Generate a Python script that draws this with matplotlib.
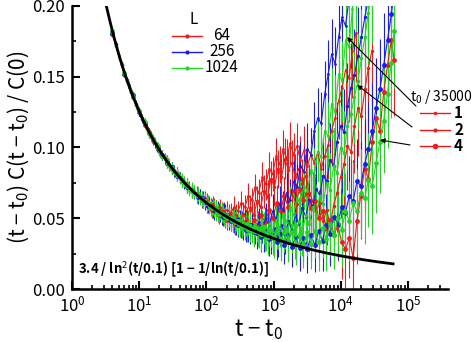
import numpy as np
import matplotlib
matplotlib.use('Agg')
import matplotlib.pyplot as plt
from matplotlib.ticker import LogLocator, MultipleLocator, NullFormatter

plt.rcParams['font.family'] = ['Noto Sans CJK JP', 'DejaVu Sans']
plt.rcParams['mathtext.fontset'] = 'custom'
plt.rcParams['mathtext.rm'] = 'Noto Sans CJK JP'
plt.rcParams['mathtext.it'] = 'Noto Sans CJK JP'
plt.rcParams['mathtext.bf'] = 'Noto Sans CJK JP:bold'

# t - t0 grids for the three waiting times t0 / 35000 = 1, 2, 4
t_1 = [4, 5, 6, 7, 8, 10, 12, 14, 17, 20,
       24, 28, 33, 40, 47, 56, 66, 79, 94, 110,
       125, 140, 160, 180, 205, 230, 260, 295, 330, 375,
       420, 475, 535, 600, 680, 765, 860, 970, 1090, 1230,
       1390, 1560, 1760, 1980, 2230, 2510, 2830, 3190, 3590, 4040,
       4550, 5120, 5770, 6500, 7320, 8240, 9280, 10450, 11770, 13250,
       14920, 16800]
t_2 = [4.5, 5.5, 6.5, 7.5, 9, 11, 13, 15.5, 18.5, 22,
       26, 30.5, 36, 43, 51, 61, 72, 86, 102, 117,
       132, 150, 170, 192, 217, 245, 277, 312, 352, 397,
       447, 505, 568, 640, 722, 813, 916, 1030, 1160, 1310,
       1475, 1660, 1870, 2110, 2375, 2680, 3015, 3400, 3830, 4310,
       4860, 5470, 6160, 6940, 7820, 8800, 9920, 11170, 12580, 14170,
       15960, 17980, 20250, 22800, 25700, 28900]
t_4 = [4, 6, 8, 10, 12, 14, 16, 19, 22, 26,
       31, 37, 44, 52, 62, 74, 88, 104, 120, 137,
       156, 178, 203, 231, 263, 300, 342, 390, 445, 507,
       578, 659, 751, 856, 976, 1110, 1270, 1445, 1650, 1880,
       2140, 2440, 2780, 3170, 3610, 4120, 4700, 5350, 6100, 6960,
       7930, 9040, 10300, 11750, 13400, 15270, 17400, 19840, 22600, 25800,
       29400, 33500, 38200, 43500, 49600, 56500, 62000]

# statistical errors on each grid
err_1 = [0.002, 0.002, 0.002, 0.002, 0.0025, 0.0025, 0.0025, 0.003, 0.003, 0.003,
         0.003, 0.0035, 0.0035, 0.004, 0.004, 0.004, 0.0045, 0.0045, 0.005, 0.005,
         0.0055, 0.006, 0.0055, 0.0065, 0.006, 0.007, 0.0075, 0.007, 0.008, 0.0085,
         0.009, 0.0085, 0.0095, 0.010, 0.0105, 0.011, 0.0115, 0.012, 0.0125, 0.013,
         0.0135, 0.014, 0.015, 0.0155, 0.016, 0.017, 0.0175, 0.018, 0.019, 0.020,
         0.021, 0.022, 0.023, 0.024, 0.025, 0.026, 0.027, 0.028, 0.029, 0.031,
         0.033, 0.035]
err_2 = [0.002, 0.002, 0.002, 0.0025, 0.0025, 0.0025, 0.003, 0.003, 0.003, 0.003,
         0.0035, 0.0035, 0.004, 0.004, 0.0045, 0.0045, 0.005, 0.005, 0.0055, 0.0055,
         0.006, 0.006, 0.0065, 0.007, 0.007, 0.0075, 0.008, 0.008, 0.0085, 0.009,
         0.0095, 0.010, 0.0105, 0.011, 0.0115, 0.012, 0.0125, 0.013, 0.0135, 0.014,
         0.0145, 0.015, 0.016, 0.0165, 0.017, 0.018, 0.019, 0.020, 0.021, 0.022,
         0.023, 0.024, 0.025, 0.026, 0.027, 0.028, 0.029, 0.030, 0.031, 0.032,
         0.033, 0.034, 0.035, 0.036, 0.037, 0.038]
err_4 = [0.002, 0.002, 0.0025, 0.0025, 0.0025, 0.003, 0.003, 0.003, 0.003, 0.0035,
         0.0035, 0.004, 0.004, 0.0045, 0.0045, 0.005, 0.005, 0.0055, 0.0055, 0.006,
         0.006, 0.0065, 0.007, 0.007, 0.0075, 0.008, 0.008, 0.0085, 0.009, 0.0095,
         0.010, 0.0105, 0.011, 0.0115, 0.012, 0.0125, 0.013, 0.0135, 0.014, 0.0145,
         0.015, 0.016, 0.0165, 0.017, 0.018, 0.019, 0.020, 0.021, 0.022, 0.023,
         0.024, 0.025, 0.026, 0.027, 0.028, 0.029, 0.030, 0.031, 0.032, 0.033,
         0.034, 0.035, 0.036, 0.037, 0.038, 0.039, 0.040]

# (t - t0) C(t - t0) / C(0) for L = 64
L64_t1 = [0.181, 0.164, 0.152, 0.143, 0.136, 0.125, 0.117, 0.110, 0.104, 0.098,
          0.093, 0.087, 0.084, 0.079, 0.076, 0.072, 0.069, 0.066, 0.064, 0.061,
          0.060, 0.057, 0.058, 0.055, 0.056, 0.054, 0.058, 0.055, 0.061, 0.058,
          0.066, 0.063, 0.072, 0.068, 0.079, 0.074, 0.085, 0.081, 0.094, 0.088,
          0.099, 0.092, 0.103, 0.095, 0.101, 0.091, 0.098, 0.087, 0.095, 0.089,
          0.097, 0.085, 0.094, 0.102, 0.112, 0.121, 0.133, 0.142, 0.155, 0.149,
          0.168, 0.181]
L64_t2 = [0.172, 0.158, 0.147, 0.139, 0.130, 0.121, 0.113, 0.107, 0.100, 0.095,
          0.091, 0.085, 0.082, 0.076, 0.074, 0.069, 0.068, 0.062, 0.062, 0.057,
          0.058, 0.053, 0.055, 0.050, 0.053, 0.048, 0.052, 0.047, 0.053, 0.049,
          0.057, 0.052, 0.062, 0.058, 0.069, 0.065, 0.078, 0.072, 0.085, 0.079,
          0.092, 0.084, 0.089, 0.079, 0.085, 0.074, 0.080, 0.068, 0.062, 0.055,
          0.061, 0.048, 0.056, 0.045, 0.059, 0.068, 0.079, 0.088, 0.101, 0.097,
          0.115, 0.128, 0.122, 0.141, 0.156, 0.168]
L64_t4 = [0.180, 0.152, 0.136, 0.126, 0.116, 0.111, 0.105, 0.100, 0.094, 0.091,
          0.085, 0.082, 0.076, 0.074, 0.069, 0.067, 0.062, 0.061, 0.056, 0.057,
          0.052, 0.054, 0.049, 0.051, 0.046, 0.049, 0.044, 0.048, 0.043, 0.049,
          0.045, 0.052, 0.047, 0.056, 0.050, 0.061, 0.055, 0.066, 0.058, 0.069,
          0.060, 0.071, 0.063, 0.068, 0.057, 0.062, 0.050, 0.055, 0.043, 0.049,
          0.038, 0.045, 0.033, 0.028, 0.036, 0.022, 0.048, 0.066, 0.085, 0.078,
          0.104, 0.121, 0.112, 0.139, 0.158, 0.176, 0.162]

# L = 256
L256_t1 = [0.182, 0.165, 0.153, 0.144, 0.137, 0.125, 0.118, 0.111, 0.103, 0.098,
           0.092, 0.088, 0.083, 0.079, 0.075, 0.071, 0.068, 0.066, 0.061, 0.060,
           0.056, 0.057, 0.053, 0.054, 0.050, 0.051, 0.047, 0.050, 0.044, 0.047,
           0.042, 0.046, 0.041, 0.047, 0.043, 0.050, 0.045, 0.055, 0.049, 0.060,
           0.056, 0.068, 0.063, 0.076, 0.072, 0.087, 0.083, 0.099, 0.095, 0.112,
           0.121, 0.117, 0.138, 0.152, 0.166, 0.159, 0.178, 0.192, 0.186, 0.205,
           0.214, 0.225]
L256_t2 = [0.173, 0.158, 0.148, 0.139, 0.131, 0.120, 0.114, 0.106, 0.101, 0.094,
           0.090, 0.085, 0.081, 0.077, 0.072, 0.070, 0.066, 0.064, 0.059, 0.059,
           0.055, 0.056, 0.052, 0.053, 0.049, 0.050, 0.046, 0.048, 0.043, 0.046,
           0.041, 0.044, 0.039, 0.043, 0.038, 0.042, 0.037, 0.043, 0.036, 0.045,
           0.039, 0.048, 0.042, 0.052, 0.046, 0.057, 0.051, 0.063, 0.058, 0.071,
           0.066, 0.080, 0.076, 0.091, 0.087, 0.104, 0.115, 0.111, 0.129, 0.142,
           0.151, 0.165, 0.178, 0.192, 0.205, 0.220]
L256_t4 = [0.181, 0.152, 0.137, 0.125, 0.117, 0.110, 0.106, 0.099, 0.095, 0.089,
           0.086, 0.080, 0.077, 0.072, 0.070, 0.065, 0.064, 0.059, 0.058, 0.055,
           0.055, 0.051, 0.052, 0.048, 0.049, 0.045, 0.047, 0.042, 0.045, 0.040,
           0.043, 0.037, 0.041, 0.035, 0.040, 0.033, 0.039, 0.031, 0.038, 0.030,
           0.037, 0.029, 0.036, 0.028, 0.038, 0.031, 0.041, 0.034, 0.045, 0.039,
           0.051, 0.046, 0.058, 0.054, 0.066, 0.062, 0.076, 0.073, 0.088, 0.099,
           0.112, 0.128, 0.141, 0.158, 0.176, 0.194, 0.210]

# L = 1024
L1024_t1 = [0.181, 0.164, 0.153, 0.143, 0.137, 0.126, 0.117, 0.111, 0.104, 0.097,
            0.093, 0.087, 0.084, 0.078, 0.076, 0.070, 0.069, 0.064, 0.063, 0.058,
            0.058, 0.054, 0.055, 0.051, 0.053, 0.048, 0.051, 0.045, 0.049, 0.043,
            0.047, 0.041, 0.046, 0.039, 0.045, 0.038, 0.046, 0.040, 0.049, 0.043,
            0.053, 0.047, 0.058, 0.052, 0.064, 0.060, 0.073, 0.069, 0.084, 0.080,
            0.097, 0.093, 0.112, 0.108, 0.131, 0.125, 0.152, 0.147, 0.176, 0.171,
            0.198, 0.215]
L1024_t2 = [0.172, 0.159, 0.147, 0.140, 0.130, 0.121, 0.113, 0.107, 0.100, 0.095,
            0.089, 0.086, 0.080, 0.078, 0.072, 0.071, 0.066, 0.064, 0.060, 0.058,
            0.057, 0.054, 0.054, 0.051, 0.051, 0.048, 0.049, 0.045, 0.047, 0.042,
            0.045, 0.040, 0.044, 0.038, 0.043, 0.036, 0.042, 0.035, 0.042, 0.034,
            0.043, 0.036, 0.045, 0.038, 0.048, 0.041, 0.052, 0.046, 0.058, 0.052,
            0.066, 0.060, 0.075, 0.070, 0.087, 0.082, 0.100, 0.096, 0.115, 0.124,
            0.136, 0.147, 0.163, 0.178, 0.195, 0.212]
L1024_t4 = [0.182, 0.153, 0.136, 0.126, 0.118, 0.110, 0.106, 0.101, 0.094, 0.091,
            0.085, 0.082, 0.076, 0.074, 0.069, 0.067, 0.062, 0.061, 0.057, 0.057,
            0.053, 0.053, 0.050, 0.050, 0.047, 0.048, 0.044, 0.046, 0.042, 0.044,
            0.040, 0.043, 0.038, 0.042, 0.036, 0.041, 0.035, 0.040, 0.033, 0.040,
            0.032, 0.039, 0.031, 0.040, 0.032, 0.041, 0.033, 0.043, 0.035, 0.046,
            0.038, 0.050, 0.042, 0.055, 0.048, 0.061, 0.055, 0.068, 0.064, 0.077,
            0.073, 0.089, 0.104, 0.119, 0.138, 0.160, 0.182]

L_sizes = ['64', '256', '1024']
t0_labels = ['1', '2', '4']
colors = ['#f01a1a', '#1c1ce8', '#24d424']
marker_sizes = [2.0, 2.5, 3.5]

# fit from the annotation: 3.4 / ln^2(t/0.1) [1 - 1/ln(t/0.1)]
amp, tau = 3.4, 0.1

grids = {'1': (t_1, err_1), '2': (t_2, err_2), '4': (t_4, err_4)}
data = {
    ('64', '1'): L64_t1, ('64', '2'): L64_t2, ('64', '4'): L64_t4,
    ('256', '1'): L256_t1, ('256', '2'): L256_t2, ('256', '4'): L256_t4,
    ('1024', '1'): L1024_t1, ('1024', '2'): L1024_t2, ('1024', '4'): L1024_t4,
}

fig = plt.figure(figsize=(4.74, 3.42), dpi=100)
ax = fig.add_axes([72 / 474, 1 - 289 / 342, 376 / 474, 283 / 342])

for L, col in zip(L_sizes, colors):
    for t0, ms in zip(t0_labels, marker_sizes):
        tt, ee = grids[t0]
        ax.errorbar(tt, data[(L, t0)], yerr=ee, color=col, lw=0.8,
                    marker='o', ms=ms, mew=0, capsize=3,
                    elinewidth=0.8, capthick=0.9)

tc = np.logspace(np.log10(3.0), np.log10(6.0e4), 300)
lc = np.log(tc / tau)
ax.plot(tc, amp / lc**2 * (1 - 1 / lc), color='black', lw=2, zorder=10)

ax.set_xscale('log')
ax.set_xlim(1, 3.94e5)
ax.set_ylim(0, 0.2)
ax.xaxis.set_major_locator(LogLocator(base=10, numticks=10))
ax.xaxis.set_minor_locator(LogLocator(base=10, subs=np.arange(2, 10), numticks=20))
ax.xaxis.set_minor_formatter(NullFormatter())
ax.yaxis.set_major_locator(MultipleLocator(0.05))
ax.yaxis.set_minor_locator(MultipleLocator(0.025))
ax.yaxis.set_major_formatter(lambda v, p: f'{v:.2f}')

for s in ['top', 'right']:
    ax.spines[s].set_visible(False)
for s in ['left', 'bottom']:
    ax.spines[s].set_linewidth(1.8)
ax.tick_params(which='major', direction='in', length=6, width=1.5, labelsize=12)
ax.tick_params(which='minor', direction='in', length=3, width=1.2)
ax.tick_params(axis='x', pad=5)
ax.tick_params(axis='y', pad=5)

ax.set_ylabel('(t − t$_0$) C(t − t$_0$) / C(0)', fontsize=15)
ax.yaxis.set_label_coords(-0.108, 0.5)
ax.set_xlabel('t − t$_0$', fontsize=16)
ax.xaxis.set_label_coords(0.497, -0.1)

ax.text(0.016, 0.071, '3.4 / ln$^2$(t/0.1) [1 − 1/ln(t/0.1)]',
        transform=ax.transAxes, fontsize=9.5, fontweight='bold', va='center')

# legend for system size
ax.text(0.324, 0.951, 'L', transform=ax.transAxes, fontsize=11,
        ha='center', va='center')
for i, (L, col) in enumerate(zip(L_sizes, colors)):
    yy = 0.894 - i * 0.0565
    ax.plot([0.266, 0.346], [yy, yy], transform=ax.transAxes, color=col, lw=1)
    ax.plot([0.306], [yy], transform=ax.transAxes, color=col, marker='o', ms=3, mew=0)
    ax.text(0.399, yy, L, transform=ax.transAxes, fontsize=11,
            ha='center', va='center')

# legend for waiting time
ax.text(0.983, 0.68, 't$_0$ / 35000', transform=ax.transAxes, fontsize=10,
        ha='center', va='center', clip_on=False)
for i, (t0, ms) in enumerate(zip(t0_labels, marker_sizes)):
    yy = 0.622 - i * 0.0585
    ax.plot([0.926, 1.005], [yy, yy], transform=ax.transAxes, color=colors[0],
            lw=1, clip_on=False)
    ax.plot([0.965], [yy], transform=ax.transAxes, color=colors[0], marker='o',
            ms=ms + 0.5, mew=0, clip_on=False)
    ax.text(1.016, yy, t0, transform=ax.transAxes, fontsize=11, fontweight='bold',
            ha='left', va='center', clip_on=False)

# arrows from the legend entries to the curves
arrows = [((12370, 0.178), (131500, 0.1293)),
          ((17420, 0.1442), (114800, 0.1145)),
          ((38300, 0.1053), (107100, 0.1018))]
for head, tail in arrows:
    ax.annotate('', xy=head, xytext=tail,
                arrowprops=dict(arrowstyle='-|>', color='black', lw=0.8,
                                mutation_scale=7, shrinkA=0, shrinkB=0),
                zorder=12)

fig.savefig('out.png', dpi=100)
